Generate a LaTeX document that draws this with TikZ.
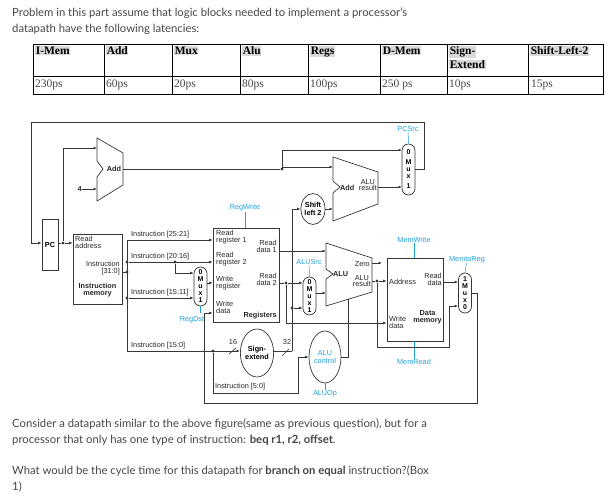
\documentclass[tikz,border=0pt]{standalone}
\usepackage{fontspec}
\setmainfont{Lato}
\newfontfamily\dgm{Liberation Sans}
\newfontfamily\tbl{Liberation Serif}
\usetikzlibrary{arrows.meta,shapes.geometric}
\definecolor{ctl}{RGB}{30,160,220}
\definecolor{txt}{RGB}{70,70,70}
\definecolor{wire}{RGB}{55,55,55}
\tikzset{
  wire/.style={draw=wire,line width=0.7pt},
  arr/.style={wire,-{Latex[length=3.5pt,width=2.8pt]}},
  lbl/.style={font=\dgm\fontsize{7.3}{7.4}\selectfont,inner sep=0,text=black!85},
  blbl/.style={lbl,font=\dgm\bfseries\fontsize{7.3}{7.4}\selectfont},
  ctl/.style={lbl,text=ctl},
  dot/.style={circle,fill=wire,inner sep=0,minimum size=3.2pt},
  box/.style={draw=wire,line width=0.7pt,inner sep=0},
  mux/.style={box,rounded corners=6.5pt,minimum width=13pt,align=center,
    font=\dgm\bfseries\fontsize{7}{7}\selectfont},
  oval/.style={box,ellipse,align=center,font=\dgm\bfseries\fontsize{7.3}{7.6}\selectfont},
  hd/.style={font=\tbl\bfseries\fontsize{11.5}{13}\selectfont,fill=black!15,inner sep=0.6pt,anchor=north west},
  val/.style={font=\tbl\fontsize{11.5}{13}\selectfont,text=txt,inner sep=0,anchor=west},
  body/.style={font=\fontsize{11.3}{16}\selectfont,text=txt,inner sep=0,anchor=north west,align=left}
}
\begin{document}
\begin{tikzpicture}[x=1pt,y=-1pt]
\useasboundingbox (0,0) rectangle (614,503);
% question text
\node[body] (q1) at (12,8) {Problem in this part assume that logic blocks needed to implement a processor's\\datapath have the following latencies:};
% latency table
\draw[black,line width=0.6pt] (33,44) rectangle (603,94);
\draw[black,line width=0.6pt] (33,76) -- (603,76);
\foreach \x in {104,172,240,308,380,447,528}
  \draw[black,line width=0.6pt] (\x,44) -- (\x,94);
\node[hd] (h1) at (35,46) {I-Mem};
\node[hd] (h2) at (106,46) {Add};
\node[hd] (h3) at (174,46) {Mux};
\node[hd] (h4) at (242,46) {Alu};
\node[hd] (h5) at (310,46) {Regs};
\node[hd] (h6) at (382,46) {D-Mem};
\node[hd] (h7) at (449,46) {Sign-};
\node[hd] (h7b) at (449,60) {Extend};
\node[hd] (h8) at (530,46) {Shift-Left-2};
\node[val] (v1) at (35,85) {230ps};
\node[val] (v2) at (106,85) {60ps};
\node[val] (v3) at (174,85) {20ps};
\node[val] (v4) at (242,85) {80ps};
\node[val] (v5) at (310,85) {100ps};
\node[val] (v6) at (382,85) {250 ps};
\node[val] (v7) at (449,85) {10ps};
\node[val] (v8) at (531,85) {15ps};

% ---------------- datapath ----------------
% PC and instruction memory
\node[box,minimum width=16,minimum height=51,font=\dgm\bfseries\fontsize{7.3}{7.4}\selectfont] (pc) at (50,244.5) {PC};
\node[box,minimum width=49,minimum height=70] (imem) at (97.5,269) {};
\node[lbl,anchor=north west,align=left] (ra) at (75,236) {Read\\address};
\node[lbl,anchor=north east,align=right] (iw) at (120,261) {Instruction\\{}[31:0]};
\node[blbl,anchor=north,align=center] (imt) at (97.5,283) {Instruction\\memory};

% PC adder
\draw[wire,fill=white] (97,138) -- (123,153) -- (123,185) -- (97,201) -- (97,177) -- (103,169) -- (97,161) -- cycle;
\node[blbl] (addl) at (114,169) {Add};
\coordinate (add1a) at (97,148);
\coordinate (add1b) at (97,189);
\coordinate (add1o) at (123,169);
\node[blbl,anchor=east] (four) at (82,189) {4};

% branch adder
\draw[wire,fill=white] (333,157) -- (378,172) -- (378,204) -- (333,221) -- (333,193) -- (340,187) -- (333,181) -- cycle;
\node[blbl,anchor=west] (add2l) at (340,188) {Add};
\node[lbl,anchor=east,align=center] (add2r) at (377,185) {ALU\\[-1.5pt]result};
\coordinate (add2a) at (333,167);
\coordinate (add2b) at (333,209);
\coordinate (add2o) at (378,187);

% PCSrc mux
\node[mux,minimum height=51] (mpc) at (408.5,169.5) {0\\[3pt]M\\u\\x\\[3pt]1};
\node[ctl] (pcsrc) at (408,129) {PCSrc};
\draw[draw=ctl,line width=0.5pt] (pcsrc) -- (mpc.north);
\coordinate (mpc0) at (402,150);
\coordinate (mpc1) at (402,187);

% shift left 2
\node[oval,minimum width=23,minimum height=31,inner sep=0] (sl2) at (313,209) {Shift\\left 2};

% registers
\node[box,minimum width=66,minimum height=94] (regs) at (246,275) {};
\node[lbl,anchor=north west,align=left] (rr1) at (216,230) {Read\\register 1};
\node[lbl,anchor=north west,align=left] (rr2) at (216,252) {Read\\register 2};
\node[lbl,anchor=north west,align=left] (wr) at (216,276) {Write\\register};
\node[lbl,anchor=north west,align=left] (wd) at (216,301) {Write\\data};
\node[lbl,anchor=north east,align=right] (rd1) at (277,240) {Read\\data 1};
\node[lbl,anchor=north east,align=right] (rd2) at (277,273) {Read\\data 2};
\node[blbl,anchor=south east] (regt) at (277,319) {Registers};
\node[ctl] (regwrite) at (245,208) {RegWrite};
\draw[draw=ctl,line width=0.5pt] (regwrite) -- (regs.north -| regwrite);

% RegDst mux
\node[mux,minimum height=39] (mrd) at (200.5,286.5) {0\\M\\u\\x\\1};
\node[ctl] (regdst) at (192,320) {RegDst};
\draw[draw=ctl,line width=0.5pt] (mrd.south) -- ++(0,7);

% instruction fields
\coordinate (bus) at (127,240);
\coordinate (busb) at (127,351);
\draw[wire] (bus) -- (busb);
\draw[wire] (imem.east |- 0,272) -- (127,272);
\node[dot] (d272) at (127,272) {};
\node[dot] (d262) at (127,262) {};
\node[dot] (d298) at (127,298) {};
\draw[arr] (bus) -- (regs.west |- bus);
\draw[arr] (d262) -- (regs.west |- d262);
\node[dot] (d175) at (175,262) {};
\draw[arr] (d175) -- (175,273) -- (mrd.west |- 0,273);
\draw[arr] (d298) -- (mrd.west |- d298);
\draw[arr] (mrd.east |- 0,283) -- (regs.west |- 0,283);
\node[lbl,anchor=south west] (i2521) at (131,238) {Instruction [25:21]};
\node[lbl,anchor=south west] (i2016) at (131,260) {Instruction [20:16]};
\node[lbl,anchor=south west] (i1511) at (131,296) {Instruction [15:11]};
\node[lbl,anchor=south west] (i150) at (131,349) {Instruction [15:0]};

% sign extend
\node[oval,minimum width=30,minimum height=48,inner sep=0] (sext) at (257,353) {Sign-\\extend};
\node[dot] (d213) at (213,351) {};
\draw[arr] (busb) -- (sext.west |- busb);
\draw[wire] (229,354) -- (236,348);
\draw[wire] (282,356) -- (289,349);
\node[lbl] (n16) at (233,342) {16};
\node[lbl] (n32) at (287,342) {32};
\coordinate (sxo) at (292,351);
\draw[wire] (sext.east |- sxo) -- (sxo);
\draw[arr] (sxo) -- (292,209) -- (sl2.west);
\draw[arr] (sl2.east) -- (add2b);
\node[dot] (d292) at (292,308) {};

% ALUSrc mux
\node[mux,minimum height=38] (mas) at (309.5,296) {0\\M\\u\\x\\1};
\node[ctl] (alusrc) at (309,262) {ALUSrc};
\draw[draw=ctl,line width=0.5pt] (alusrc) -- (mas.north);
\draw[arr] (d292) -- (mas.west |- d292);
\node[dot] (d286) at (286,283) {};
\draw[wire] (regs.east |- d286) -- (d286);
\draw[arr] (d286) -- (mas.west |- d286);

% main ALU
\draw[wire,fill=white] (326,243) -- (372,258) -- (372,292) -- (326,306) -- (326,279) -- (333,274) -- (326,269) -- cycle;
\node[blbl,anchor=west] (alul) at (333,274) {ALU};
\node[lbl,anchor=east] (zero) at (370,264) {Zero};
\node[lbl,anchor=east,align=center] (alur) at (371,281) {ALU\\[-1.5pt]result};
\draw[arr] (regs.east |- 0,251) -- (326,251);
\draw[arr] (mas.east |- 0,293) -- (326,293);
\draw[arr] (372,263) -- (382,263);

% ALU control
\node[oval,minimum width=32,minimum height=52,inner sep=0,text=ctl,font=\dgm\fontsize{7.3}{7.6}\selectfont] (aluc) at (325,357) {ALU\\control};
\node[ctl] (aluop) at (325,394) {ALUOp};
\draw[draw=ctl,line width=0.5pt] (aluop) -- (aluc.south);
\draw[wire] (aluc.east |- 0,357) -- (348,357) -- (348,299);
\draw[arr] (d213) -- (213,393) -- (298,393) -- (298,357) -- (aluc.west |- 0,357);
\node[lbl,anchor=south west] (i50) at (215,390) {Instruction [5:0]};

% data memory
\node[box,minimum width=56,minimum height=83] (dmem) at (415,299.5) {};
\node[lbl,anchor=west] (addr) at (389,282) {Address};
\node[lbl,anchor=north east,align=right] (rdd) at (442,273) {Read\\data};
\node[lbl,anchor=north west,align=left] (wdd) at (389,316) {Write\\data};
\node[blbl,anchor=north east,align=center] (dmt) at (442,310) {Data\\memory};
\node[ctl] (memwrite) at (414,240) {MemWrite};
\draw[draw=ctl,line width=0.5pt] (memwrite) -- (dmem.north -| memwrite);
\node[ctl] (memread) at (414,362) {MemRead};
\draw[draw=ctl,line width=0.5pt] (memread) -- (dmem.south -| memread);
\node[dot] (d377) at (377,281) {};
\draw[wire] (372,281) -- (d377);
\draw[arr] (d377) -- (dmem.west |- d377);
\draw[wire] (d286) -- (286,323);
\draw[arr] (286,323) -- (dmem.west |- 0,323);

% MemtoReg mux
\node[mux,minimum height=40] (mmr) at (465,293) {1\\M\\u\\x\\0};
\node[ctl] (memtoreg) at (467,260) {MemtoReg};
\draw[draw=ctl,line width=0.5pt] (memtoreg) -- (mmr.north);
\draw[arr] (dmem.east |- 0,282) -- (mmr.west |- 0,282);
\draw[arr] (d377) -- (377,347) -- (449,347) -- (449,306) -- (mmr.west |- 0,306);
\draw[arr] (mmr.east |- 0,293) -- (477,293) -- (477,403) -- (204,403) -- (204,313) -- (regs.west |- 0,313);

% PC update paths
\node[dot] (d282) at (282,169) {};
\draw[wire] (add1o) -- (d282);
\draw[arr] (d282) -- (add2a -| d282) -- (add2a);
\draw[arr] (d282) -- (282,150) -- (mpc0);
\draw[arr] (add2o) -- (mpc1);
\draw[arr] (mpc.east |- 0,169) -- (424,169) -- (424,122) -- (31,122) -- (31,243) -- (pc.west |- 0,243);
\node[dot] (d63) at (63,243) {};
\draw[wire] (pc.east |- d63) -- (d63);
\draw[arr] (d63) -- (imem.west |- d63);
\draw[arr] (d63) -- (63,148) -- (add1a);
\draw[arr] (four) -- (add1b);

% closing text
\node[body] (q2) at (12,419) {Consider a datapath similar to the above figure(same as previous question), but for a\\processor that only has one type of instruction: \textbf{beq r1, r2, offset}.};
\node[body] (q3) at (12,466) {What would be the cycle time for this datapath for \textbf{branch on equal} instruction?(Box\\1)};
\end{tikzpicture}
\end{document}
